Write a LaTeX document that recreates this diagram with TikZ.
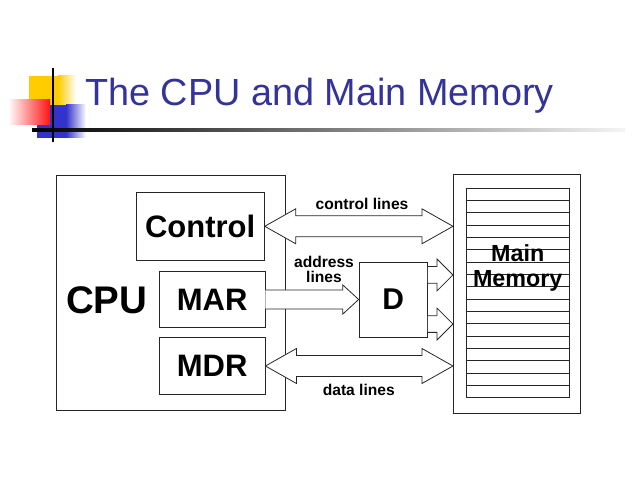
\documentclass[tikz,border=0pt]{standalone}
\usepackage{fontspec}
\setmainfont{Liberation Sans}
\usetikzlibrary{calc}
\definecolor{titleblue}{RGB}{51,51,153}
\definecolor{logoyellow}{RGB}{255,204,0}
\definecolor{logored}{RGB}{255,20,20}
\definecolor{logoblue}{RGB}{51,51,204}
% bus arrow with a head at both ends, from #1 to #2
\newcommand{\busarrow}[2]{%
	\draw[blockarrow] (#1) -- ++(31,-17.5) -- ++(0,7) -- ($(#2)+(-31,-10.5)$) -- ++(0,-7)
		-- (#2) -- ++(-31,17.5) -- ++(0,-7) -- ($(#1)+(31,10.5)$) -- ++(0,7) -- cycle;}
% arrow with one head: from, to, shaft half width, head half width, head length
\newcommand{\wirearrow}[5]{%
	\draw[blockarrow] ($(#1)+(0,-#3)$) -- ($(#2)+(-#5,-#3)$) -- ($(#2)+(-#5,-#4)$) -- (#2)
		-- ($(#2)+(-#5,#4)$) -- ($(#2)+(-#5,#3)$) -- ($(#1)+(0,#3)$);}

\begin{document}
\begin{tikzpicture}[
		x=1pt, y=-1pt,
		box/.style={draw=black!85, line width=0.8pt, inner sep=0},
		part/.style={box, font=\fontsize{31}{31}\selectfont\bfseries},
		wire/.style={font=\fontsize{15.6}{15}\selectfont\bfseries, align=center, inner sep=0},
		blockarrow/.style={draw=black!85, fill=white, line width=0.8pt, line join=miter},
	]
	\useasboundingbox (0,0) rectangle (638,478);

	% logo
	\fill[logoyellow] (29,76) rectangle (58,105);
	\shade[left color=logoyellow, right color=white] (58,76) rectangle (76,105);
	\fill[logoblue] (37,105) rectangle (66,138);
	\shade[left color=logoblue, right color=white] (66,105) rectangle (86,138);
	\shade[left color=white, right color=logored] (8,100) rectangle (50,125);
	\draw[line width=2pt] (53.3,68) -- (53.3,142);
	\shade[left color=black, right color=black!4] (32,129) rectangle (625,131.6);

	\node[anchor=base west, inner sep=0, text=titleblue, font=\fontsize{37.8}{40}\selectfont] (title) at (85,106) {The CPU and Main Memory};

	% cpu side
	\node[box, minimum width=229pt, minimum height=235.7pt] (cpu) at (171.2,292.9) {};
	\node[inner sep=0, font=\fontsize{38.5}{38.5}\selectfont\bfseries] (cpulabel) at (106.7,300.5) {CPU};
	\node[part, minimum width=128.3pt, minimum height=67.3pt] (ctrl) at (200.2,226.3) {Control};
	\node[part, minimum width=105.7pt, minimum height=56.3pt] (mar) at (212.2,299.5) {MAR};
	\node[part, minimum width=105.7pt, minimum height=56.3pt] (mdr) at (212.2,366) {MDR};
	\node[part, font=\fontsize{30}{30}\selectfont\bfseries, minimum width=68.3pt, minimum height=75pt] (dec) at (393.2,299.5) {D};

	% memory side
	\node[box, minimum width=126.7pt, minimum height=239pt] (mem) at (516.7,293.5) {};
	\node[box, minimum width=103.3pt, minimum height=209pt] (cells) at (517.7,292.8) {};
	\foreach \i in {1,...,16}
		\draw[black!85, line width=0.8pt] ($(cells.north west)!\i/17!(cells.south west)$) -- ($(cells.north east)!\i/17!(cells.south east)$);
	\node[inner sep=0, align=center, font=\fontsize{23.3}{25}\selectfont\bfseries] (memlabel) at (517.7,268) {Main\\Memory};

	% buses
	\coordinate (ctrlend) at (mem.west |- ctrl.east);
	\coordinate (mdrend) at (mem.west |- mdr.east);
	\coordinate (outa) at ($(dec.north east)+(0,13.3)$);
	\coordinate (outb) at ($(dec.south east)+(0,-13.3)$);
	\coordinate (outaend) at (mem.west |- outa);
	\coordinate (outbend) at (mem.west |- outb);
	\busarrow{ctrl.east}{ctrlend}
	\busarrow{mdr.east}{mdrend}
	\wirearrow{mar.east}{dec.west}{9.5}{14.7}{16}
	\wirearrow{outa}{outaend}{8.3}{16}{16}
	\wirearrow{outb}{outbend}{8.3}{16}{16}

	\node[wire] (ctrllines) at (362,204) {control lines};
	\node[wire] (addrlines) at (324,269.2) {address\\lines};
	\node[wire] (datalines) at (358.8,390.3) {data lines};
\end{tikzpicture}
\end{document}
